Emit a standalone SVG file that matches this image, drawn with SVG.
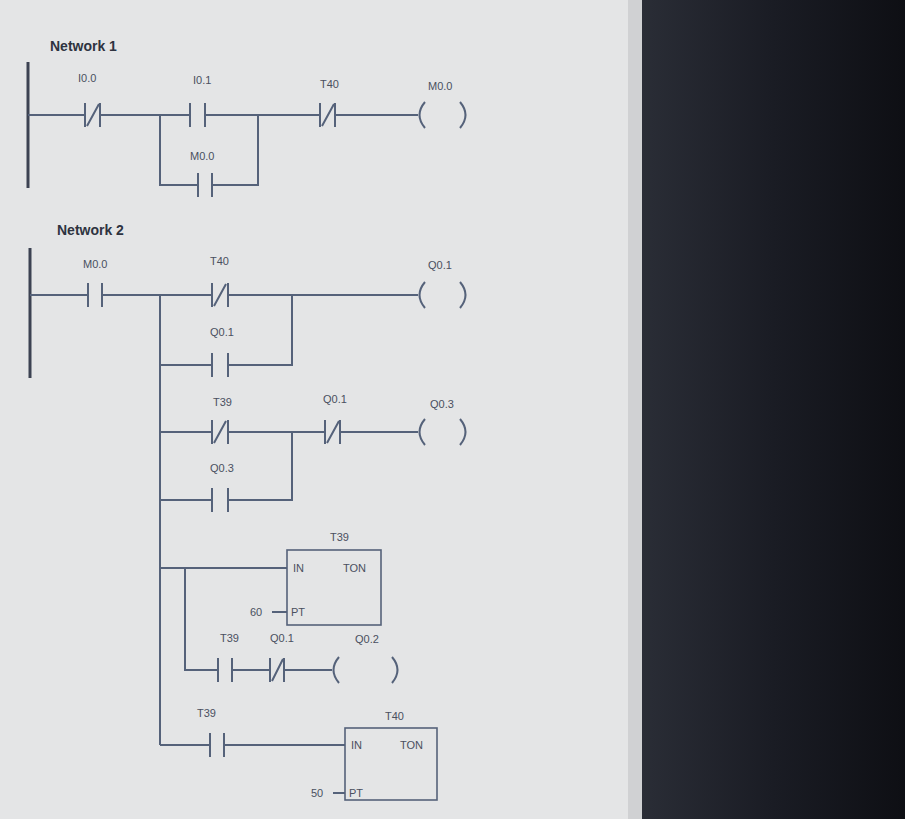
<svg xmlns="http://www.w3.org/2000/svg" width="905" height="819" viewBox="0 0 905 819">
<defs>
<linearGradient id="dk" x1="0" x2="1" y1="0" y2="0"><stop offset="0" stop-color="#2a2d36"/><stop offset="0.5" stop-color="#1a1c24"/><stop offset="1" stop-color="#0e0f14"/></linearGradient>
</defs>
<style>
.w{stroke:#55627a;stroke-width:2;fill:none}
.r{stroke:#3c4252;stroke-width:3;fill:none}
.t{font-family:"Liberation Sans",Arial,sans-serif;font-size:11px;fill:#4a5060}
.h{font-family:"Liberation Sans",Arial,sans-serif;font-size:14px;font-weight:bold;fill:#2e3340}
.b{stroke:#55627a;stroke-width:1.6;fill:none}
</style>
<rect width="905" height="819" fill="#e4e5e6"/>
<rect x="628" y="0" width="14" height="819" fill="#d0d1d3"/>
<rect x="642" y="0" width="263" height="819" fill="url(#dk)"/>
<g id="network1">
<text class="h" x="50" y="51">Network 1</text>
<line class="r" x1="28" y1="62" x2="28" y2="188"/>
</g>
<g id="network2">
<text class="h" x="57" y="235">Network 2</text>
<line class="r" x1="30" y1="248" x2="30" y2="378"/>
</g>
<g id="connectors">
<!-- N1 -->
<path class="w" d="M28 115H85M100 115H190M205 115H320M335 115H418"/>
<path class="w" d="M160 115V185H198M212 185H258V115"/>
<!-- N2 rung1 -->
<path class="w" d="M30 295H88M102 295H212M228 295H418"/>
<path class="w" d="M160 295V745"/>
<path class="w" d="M160 365H212M228 365H292V295"/>
<!-- rung 2 -->
<path class="w" d="M160 432H212M228 432H325M340 432H418"/>
<path class="w" d="M160 500H212M228 500H292V432"/>
<!-- TON T39 -->
<path class="w" d="M160 568H287M185 568V670H218M232 670H270M284 670H332"/>
<path class="w" d="M272 612H287"/>
<!-- rung T40 -->
<path class="w" d="M160 745H210M224 745H345"/>
<path class="w" d="M333 793H345"/>
</g>
<g id="contacts">
<path class="w" d="M85 103V127M100 103V127M87 126L99 104"/><text class="t" x="78" y="82">I0.0</text>
<path class="w" d="M190 103V127M205 103V127"/><text class="t" x="193" y="84">I0.1</text>
<path class="w" d="M198 173V197M212 173V197"/><text class="t" x="190" y="160">M0.0</text>
<path class="w" d="M320 103V127M335 103V127M322 126L334 104"/><text class="t" x="320" y="88">T40</text>
<path class="w" d="M88 283V307M102 283V307"/><text class="t" x="83" y="268">M0.0</text>
<path class="w" d="M212 283V307M228 283V307M214 306L226 284"/><text class="t" x="210" y="265">T40</text>
<path class="w" d="M212 353V377M228 353V377"/><text class="t" x="210" y="336">Q0.1</text>
<path class="w" d="M212 420V444M228 420V444M214 443L226 421"/><text class="t" x="213" y="406">T39</text>
<path class="w" d="M325 420V444M340 420V444M327 443L339 421"/><text class="t" x="323" y="403">Q0.1</text>
<path class="w" d="M212 488V512M228 488V512"/><text class="t" x="210" y="472">Q0.3</text>
<path class="w" d="M218 658V682M232 658V682"/><text class="t" x="220" y="642">T39</text>
<path class="w" d="M270 658V682M284 658V682M272 681L283 659"/><text class="t" x="270" y="642">Q0.1</text>
<path class="w" d="M210 733V757M224 733V757"/><text class="t" x="197" y="717">T39</text>
</g>
<g id="coils">
<path class="w" d="M425 102Q414 115 425 128M460 102Q471 115 460 128"/><text class="t" x="428" y="90">M0.0</text>
<path class="w" d="M425 282Q414 295 425 308M460 282Q471 295 460 308"/><text class="t" x="428" y="269">Q0.1</text>
<path class="w" d="M425 419Q414 432 425 445M460 419Q471 432 460 445"/><text class="t" x="430" y="408">Q0.3</text>
<path class="w" d="M339 657Q328 670 339 683M392 657Q403 670 392 683"/><text class="t" x="355" y="643">Q0.2</text>
</g>
<g id="ton_t39">
<rect class="b" x="287" y="550" width="94" height="75"/>
<text class="t" x="330" y="541">T39</text>
<text class="t" x="293" y="572">IN</text><text class="t" x="343" y="572">TON</text>
<text class="t" x="291" y="616">PT</text><text class="t" x="250" y="616" font-size="12">60</text>
</g>
<g id="ton_t40">
<rect class="b" x="345" y="728" width="92" height="72"/>
<text class="t" x="385" y="720">T40</text>
<text class="t" x="351" y="749">IN</text><text class="t" x="400" y="749">TON</text>
<text class="t" x="349" y="797">PT</text><text class="t" x="311" y="797" font-size="12">50</text>
</g>
</svg>
